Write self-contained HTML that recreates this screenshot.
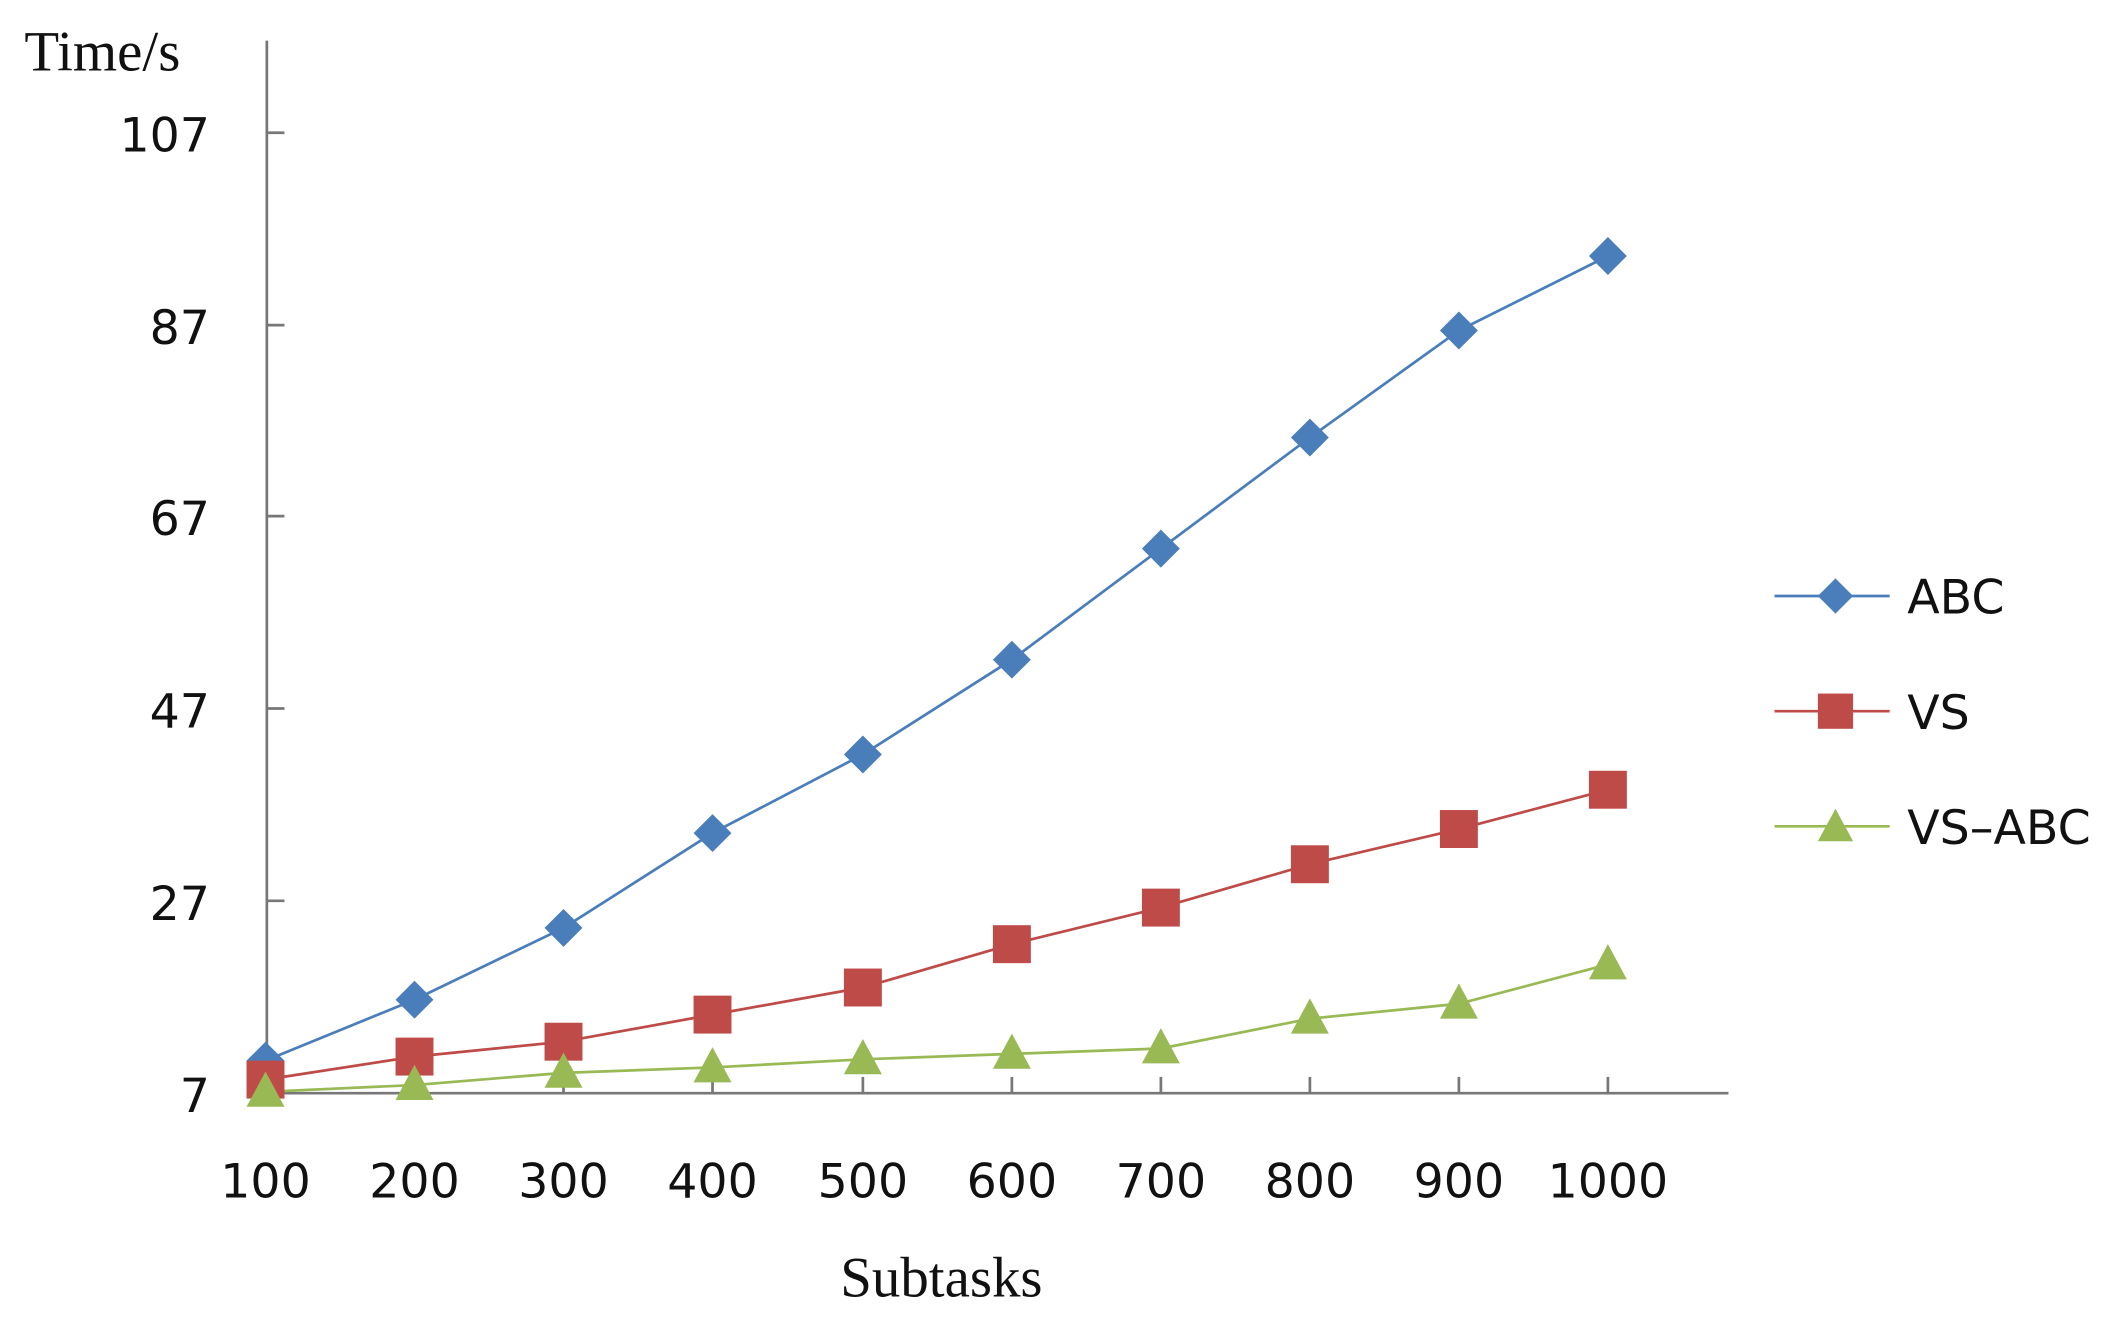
<!DOCTYPE html>
<html><head><meta charset="utf-8"><style>
html,body{margin:0;padding:0;background:#fff;}
svg{display:block;}
.t{font-family:"DejaVu Sans","Liberation Sans",sans-serif;font-size:35px;fill:#111;}
.s{font-family:"Liberation Serif",serif;font-size:42px;fill:#111;}
</style></head><body>
<svg width="2124" height="1324" viewBox="0 0 1568 977.4" preserveAspectRatio="none" xmlns="http://www.w3.org/2000/svg">
<rect width="1568" height="978" fill="#fff"/>
<line x1="197" y1="30" x2="197" y2="808" stroke="#777" stroke-width="2"/>
<line x1="197" y1="807" x2="1276" y2="807" stroke="#777" stroke-width="2"/>
<g stroke="#777" stroke-width="2">
<line x1="197" y1="98" x2="210" y2="98"/><line x1="197" y1="240" x2="210" y2="240"/>
<line x1="197" y1="381" x2="210" y2="381"/><line x1="197" y1="523" x2="210" y2="523"/>
<line x1="197" y1="665" x2="210" y2="665"/>
<line x1="306" y1="807" x2="306" y2="795"/><line x1="416" y1="807" x2="416" y2="795"/>
<line x1="526" y1="807" x2="526" y2="795"/><line x1="637" y1="807" x2="637" y2="795"/>
<line x1="747" y1="807" x2="747" y2="795"/><line x1="857" y1="807" x2="857" y2="795"/>
<line x1="967" y1="807" x2="967" y2="795"/><line x1="1077" y1="807" x2="1077" y2="795"/>
<line x1="1187" y1="807" x2="1187" y2="795"/>
</g>
<g class="t" text-anchor="end">
<text x="155" y="112">107</text><text x="155" y="254">87</text><text x="155" y="395">67</text>
<text x="155" y="537">47</text><text x="155" y="679">27</text><text x="155" y="821">7</text>
</g>
<g class="t" text-anchor="middle">
<text x="196" y="884">100</text><text x="306" y="884">200</text><text x="416" y="884">300</text>
<text x="526" y="884">400</text><text x="637" y="884">500</text><text x="747" y="884">600</text>
<text x="857" y="884">700</text><text x="967" y="884">800</text><text x="1077" y="884">900</text>
<text x="1187" y="884">1000</text>
</g>
<text class="s" x="18" y="52">Time/s</text>
<text class="s" x="695" y="957" text-anchor="middle">Subtasks</text>
<polyline fill="none" stroke="#4a7ebb" stroke-width="2" points="196,783 306,738 416,685 526,615 637,557 747,487 857,405 967,323 1077,244 1187,189"/>
<polyline fill="none" stroke="#be4b48" stroke-width="2" points="196,797 306,780 416,769 526,749 637,729 747,697 857,670 967,638 1077,612 1187,583"/>
<polyline fill="none" stroke="#98b954" stroke-width="2" points="196,806 306,801 416,792 526,788 637,782 747,778 857,774 967,752 1077,741 1187,712"/>
<g fill="#4a7ebb">
<path d="M196,769l14,14l-14,14l-14,-14z"/><path d="M306,724l14,14l-14,14l-14,-14z"/>
<path d="M416,671l14,14l-14,14l-14,-14z"/><path d="M526,601l14,14l-14,14l-14,-14z"/>
<path d="M637,543l14,14l-14,14l-14,-14z"/><path d="M747,473l14,14l-14,14l-14,-14z"/>
<path d="M857,391l14,14l-14,14l-14,-14z"/><path d="M967,309l14,14l-14,14l-14,-14z"/>
<path d="M1077,230l14,14l-14,14l-14,-14z"/><path d="M1187,175l14,14l-14,14l-14,-14z"/>
</g>
<g fill="#be4b48">
<rect x="182" y="783" width="28" height="28"/><rect x="292" y="766" width="28" height="28"/>
<rect x="402" y="755" width="28" height="28"/><rect x="512" y="735" width="28" height="28"/>
<rect x="623" y="715" width="28" height="28"/><rect x="733" y="683" width="28" height="28"/>
<rect x="843" y="656" width="28" height="28"/><rect x="953" y="624" width="28" height="28"/>
<rect x="1063" y="598" width="28" height="28"/><rect x="1173" y="569" width="28" height="28"/>
</g>
<g fill="#98b954">
<path d="M196,791l14,26h-28z"/><path d="M306,786l14,26h-28z"/><path d="M416,777l14,26h-28z"/>
<path d="M526,773l14,26h-28z"/><path d="M637,767l14,26h-28z"/><path d="M747,763l14,26h-28z"/>
<path d="M857,759l14,26h-28z"/><path d="M967,737l14,26h-28z"/><path d="M1077,726l14,26h-28z"/>
<path d="M1187,697l14,26h-28z"/>
</g>
<line x1="1310" y1="440" x2="1395" y2="440" stroke="#4a7ebb" stroke-width="2"/>
<path d="M1355,427l13,13l-13,13l-13,-13z" fill="#4a7ebb"/>
<text class="t" x="1408" y="453">ABC</text>
<line x1="1310" y1="525" x2="1395" y2="525" stroke="#be4b48" stroke-width="2"/>
<rect x="1342" y="512" width="26" height="26" fill="#be4b48"/>
<text class="t" x="1408" y="538">VS</text>
<line x1="1310" y1="610" x2="1395" y2="610" stroke="#98b954" stroke-width="2"/>
<path d="M1355,597l13,24h-26z" fill="#98b954"/>
<text class="t" x="1408" y="623">VS–ABC</text>
</svg>
</body></html>
